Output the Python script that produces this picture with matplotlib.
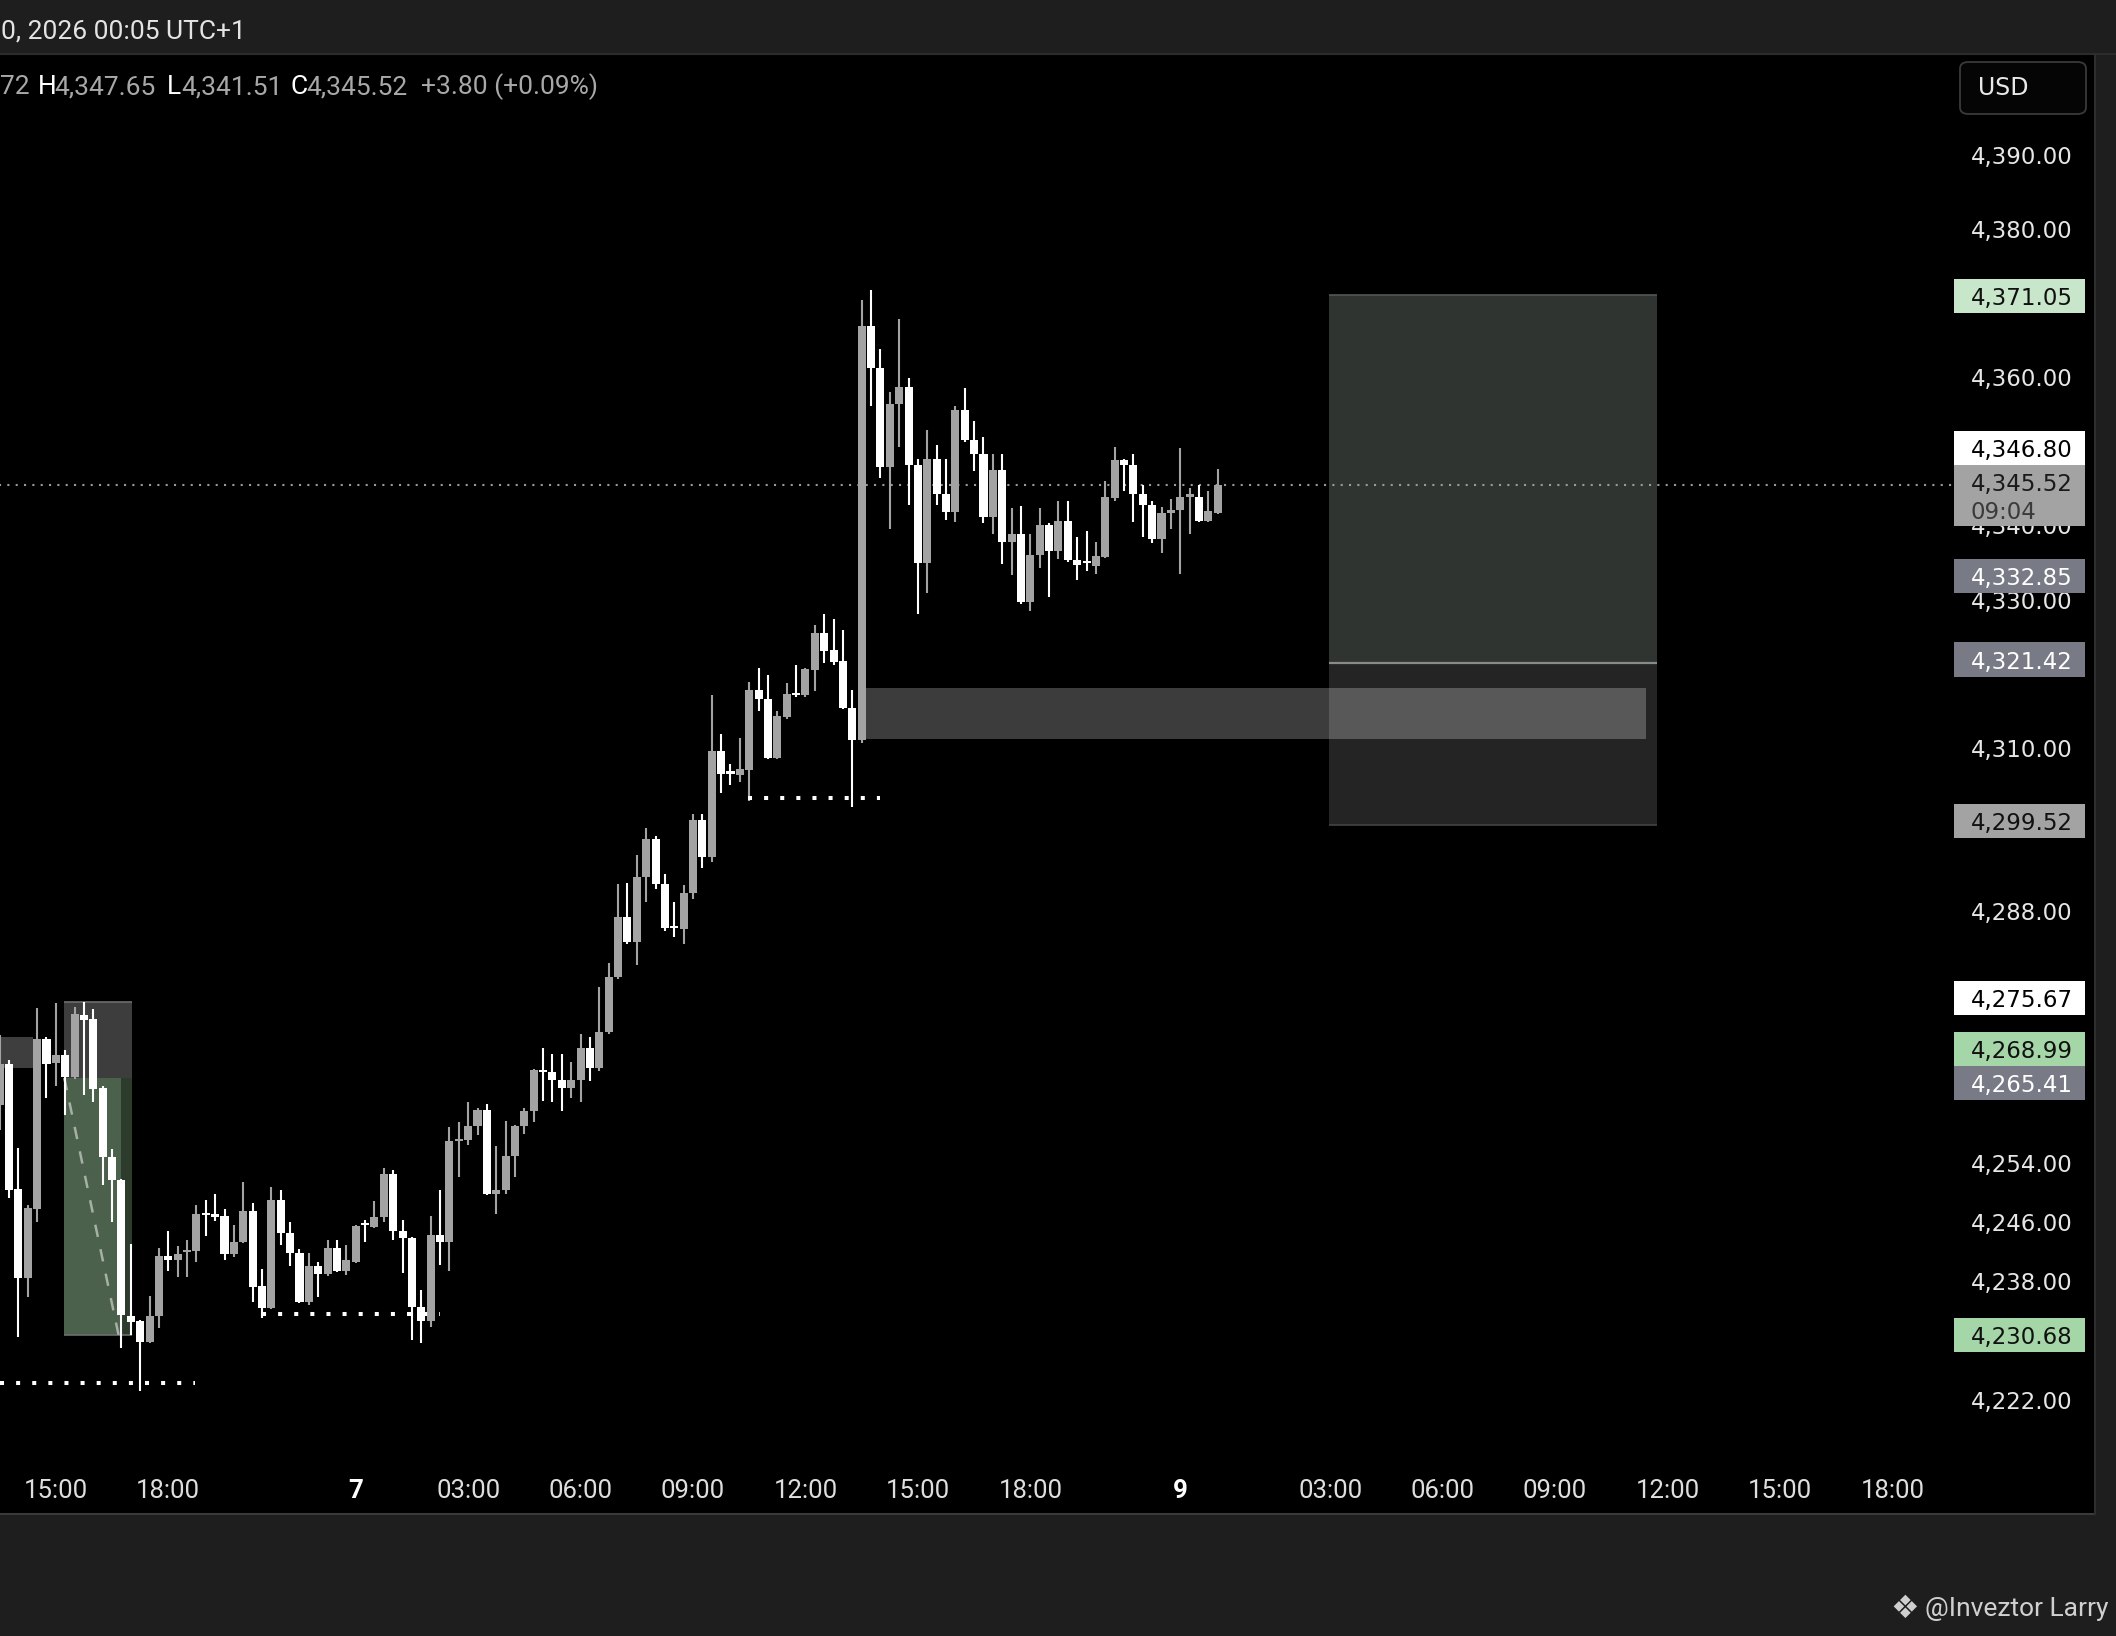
import numpy as np
import matplotlib
matplotlib.use("Agg")
import matplotlib.pyplot as plt
from matplotlib.patches import Rectangle, FancyBboxPatch
import matplotlib.transforms as mtransforms

W, H = 2116, 1636

# ---------------- data (15-min candles, index 0 = day "7" label) ----------------
first_bar = -38
opens = [4261.8, 4267.3, 4250.4, 4238.4, 4247.7, 4270.7, 4267.4, 4268.5, 4265.5, 4273.9,
         4273.4, 4264.1, 4254.8, 4251.6, 4233.3, 4232.6, 4229.8, 4233.3, 4241.4, 4240.9,
         4241.9, 4242.0, 4247.1, 4246.9, 4246.8, 4241.7, 4243.3, 4247.4, 4237.3, 4234.4,
         4248.9, 4244.5, 4241.8, 4235.2, 4240.0, 4238.9, 4242.4, 4239.3, 4240.6, 4245.6,
         4245.3, 4246.7, 4252.4, 4244.7, 4243.8, 4234.5, 4232.6, 4244.2, 4243.3, 4256.9,
         4257.0, 4258.9, 4261.1, 4249.8, 4250.3, 4254.9, 4258.9, 4260.9, 4266.5, 4266.2,
         4265.2, 4264.1, 4265.1, 4269.5, 4266.7, 4271.6, 4279.0, 4287.1, 4283.7, 4292.5,
         4297.6, 4291.6, 4285.8, 4285.5, 4290.4, 4300.2, 4295.3, 4309.5, 4306.7, 4306.3,
         4307.0, 4317.8, 4316.6, 4308.6, 4314.2, 4317.3, 4317.1, 4320.5, 4325.5, 4323.2,
         4321.7, 4315.3, 4311.0, 4366.9, 4361.3, 4347.9, 4356.4, 4358.7, 4348.2, 4334.9,
         4349.0, 4344.3, 4341.8, 4355.6, 4351.5, 4349.7, 4341.2, 4347.5, 4337.8, 4338.9,
         4329.6, 4336.0, 4340.1, 4336.5, 4340.6, 4335.3, 4335.0, 4334.5, 4335.8, 4343.7,
         4348.8, 4348.2, 4344.2, 4342.8, 4338.1, 4341.7, 4342.1, 4343.9, 4343.9, 4340.6,
         4341.72]
highs = [4271.2, 4267.8, 4255.9, 4248.3, 4274.8, 4271.0, 4275.5, 4269.2, 4275.0, 4275.6,
         4274.7, 4264.3, 4255.8, 4251.8, 4243.0, 4232.8, 4236.0, 4242.4, 4244.7, 4242.7,
         4243.5, 4248.3, 4249.0, 4249.7, 4247.7, 4245.6, 4251.4, 4248.5, 4239.6, 4250.7,
         4250.3, 4245.9, 4242.3, 4241.8, 4240.5, 4243.5, 4243.5, 4242.8, 4245.5, 4246.2,
         4248.8, 4253.2, 4253.0, 4246.2, 4244.0, 4236.8, 4246.8, 4250.3, 4258.8, 4259.5,
         4262.1, 4261.4, 4261.9, 4256.2, 4259.6, 4259.1, 4261.3, 4266.6, 4269.4, 4268.6,
         4268.7, 4267.5, 4271.3, 4270.9, 4277.7, 4280.9, 4291.6, 4291.7, 4295.5, 4299.1,
         4298.1, 4293.0, 4289.1, 4291.5, 4301.0, 4301.0, 4317.1, 4311.8, 4307.8, 4311.3,
         4318.9, 4320.8, 4319.8, 4314.9, 4318.7, 4321.2, 4320.8, 4326.6, 4328.0, 4327.3,
         4325.9, 4317.8, 4370.4, 4371.8, 4363.8, 4358.0, 4367.8, 4359.9, 4349.0, 4352.9,
         4350.9, 4349.0, 4356.1, 4358.6, 4354.1, 4351.9, 4349.7, 4349.6, 4342.3, 4342.6,
         4338.8, 4342.3, 4340.3, 4343.3, 4343.3, 4338.4, 4339.3, 4337.8, 4346.0, 4350.6,
         4349.0, 4349.6, 4345.5, 4343.3, 4342.5, 4343.5, 4350.4, 4345.1, 4345.5, 4344.6,
         4347.65]
lows = [4258.4, 4249.2, 4230.5, 4235.9, 4246.0, 4262.7, 4264.3, 4260.4, 4265.3, 4263.1,
        4262.2, 4251.0, 4246.0, 4229.0, 4230.7, 4223.1, 4229.6, 4231.6, 4239.4, 4238.5,
        4238.5, 4240.5, 4244.1, 4246.1, 4240.8, 4241.3, 4243.1, 4235.2, 4233.0, 4234.2,
        4242.9, 4240.0, 4235.0, 4234.8, 4235.9, 4238.7, 4239.2, 4238.8, 4240.4, 4243.2,
        4245.1, 4246.0, 4243.5, 4239.1, 4230.0, 4229.6, 4231.8, 4240.2, 4239.3, 4252.1,
        4256.4, 4257.7, 4249.6, 4247.1, 4249.8, 4252.1, 4257.9, 4259.4, 4262.3, 4262.2,
        4261.0, 4262.7, 4262.1, 4265.0, 4266.4, 4271.4, 4278.8, 4283.5, 4280.6, 4289.2,
        4290.9, 4285.2, 4284.4, 4283.5, 4289.6, 4293.8, 4294.6, 4303.9, 4305.0, 4305.3,
        4302.8, 4315.0, 4308.4, 4308.4, 4313.8, 4316.9, 4316.9, 4317.7, 4321.4, 4321.2,
        4315.2, 4302.0, 4310.6, 4356.1, 4346.4, 4339.5, 4350.6, 4342.8, 4328.1, 4330.9,
        4342.7, 4340.7, 4340.5, 4351.3, 4347.4, 4340.3, 4338.9, 4334.8, 4333.3, 4329.4,
        4328.4, 4334.2, 4330.3, 4335.4, 4335.1, 4332.6, 4333.8, 4333.5, 4335.6, 4343.3,
        4344.7, 4340.4, 4338.4, 4337.6, 4336.3, 4339.5, 4333.5, 4338.8, 4340.4, 4340.4,
        4341.51]
closes = [4267.3, 4250.3, 4238.4, 4247.8, 4270.7, 4267.3, 4268.5, 4265.5, 4274.0, 4273.2,
          4263.9, 4254.8, 4251.6, 4233.4, 4232.5, 4229.8, 4233.3, 4241.4, 4240.9, 4241.7,
          4242.1, 4247.1, 4246.9, 4246.7, 4241.7, 4243.3, 4247.4, 4237.2, 4234.4, 4248.9,
          4244.5, 4241.8, 4235.2, 4240.0, 4238.9, 4242.4, 4239.3, 4240.8, 4245.4, 4245.5,
          4246.7, 4252.4, 4244.7, 4243.8, 4234.5, 4232.6, 4244.2, 4243.3, 4256.9, 4257.0,
          4258.9, 4261.1, 4249.8, 4250.3, 4254.9, 4258.9, 4260.9, 4266.5, 4266.2, 4265.2,
          4264.1, 4265.1, 4269.5, 4266.7, 4271.6, 4279.0, 4287.1, 4283.7, 4292.5, 4297.6,
          4291.6, 4285.7, 4285.6, 4290.4, 4300.2, 4295.3, 4309.5, 4306.5, 4306.5, 4307.1,
          4317.8, 4316.5, 4308.6, 4314.3, 4317.2, 4317.1, 4320.6, 4325.5, 4323.1, 4321.6,
          4315.3, 4311.0, 4366.9, 4361.3, 4347.9, 4356.4, 4358.7, 4348.2, 4334.9, 4349.0,
          4344.3, 4341.8, 4355.6, 4351.5, 4349.7, 4341.2, 4347.5, 4337.8, 4338.9, 4329.6,
          4336.0, 4340.1, 4336.5, 4340.6, 4335.3, 4334.7, 4334.9, 4335.9, 4343.9, 4348.8,
          4348.2, 4344.2, 4342.8, 4338.1, 4341.7, 4342.1, 4343.9, 4344.1, 4340.6, 4342.0,
          4345.52]

price_ticks = [4390, 4380, 4360, 4340, 4330, 4310, 4288, 4254, 4246, 4238, 4222]
time_labels = ["15:00", "18:00", "7", "03:00", "06:00", "09:00", "12:00", "15:00", "18:00",
               "9", "03:00", "06:00", "09:00", "12:00", "15:00", "18:00"]
time_pos = [-32, -20, 0, 12, 24, 36, 48, 60, 72, 88, 104, 116, 128, 140, 152, 164]

# drawings (price levels / bar indices)
short_stop, short_entry, short_target = 4275.67, 4265.41, 4230.68
short_start, short_exit, short_end = -31.1, -25.0, -23.9
long_target, long_entry, long_stop = 4371.05, 4321.42, 4299.52
long_start, long_end = 103.9, 138.9
zone_lo, zone_hi, zone_start, zone_end = 4311.1, 4318.05, 53.9, 137.7
left_zone_lo, left_zone_hi, left_zone_end = 4266.8, 4270.9, -34.4
liq_levels = [4224.2, 4233.5, 4303.2]
liq_from = [-38.0, -10.0, 41.9]
liq_to = [-17.1, 9.0, 56.0]
last_price = 4345.52

# price-axis labels: (text, bottom, top, background, text colour)
axis_labels = [
    ("4,371.05", 4368.7, 4373.2, "#c8e6c9", "#111111"),
    ("4,346.80", 4348.2, 4352.8, "#ffffff", "#000000"),
    ("4,332.85", 4330.9, 4335.5, "#787b86", "#ffffff"),
    ("4,321.42", 4319.6, 4324.2, "#787b86", "#ffffff"),
    ("4,299.52", 4297.8, 4302.4, "#a3a3a3", "#111111"),
    ("4,275.67", 4273.9, 4278.5, "#ffffff", "#000000"),
    ("4,268.99", 4267.0, 4271.6, "#a5d6a7", "#111111"),
    ("4,265.41", 4262.4, 4267.0, "#787b86", "#ffffff"),
    ("4,230.68", 4228.4, 4233.0, "#a5d6a7", "#111111"),
]

# ---------------- figure ----------------
BG = "#1e1e1e"
fig = plt.figure(figsize=(W / 100, H / 100), dpi=100, facecolor=BG)

CH_TOP, CH_BOT, CH_RIGHT = 54, 1514, 2095
ax = fig.add_axes([0, 1 - CH_BOT / H, CH_RIGHT / W, (CH_BOT - CH_TOP) / H])
ax.set_facecolor("black")
for s in ax.spines.values():
    s.set_visible(False)
ax.set_xticks([])
ax.set_yticks([])
X0, DX = 355.7, 9.37          # pixel position of bar 0 and bar spacing
ax.set_xlim(-X0 / DX, (CH_RIGHT - X0) / DX)
PPU = 7.408                   # pixels per price unit
ax.set_ylim(4390 - (CH_BOT - 155) / PPU, 4390 + (155 - CH_TOP) / PPU)
plot_right = (1952 - X0) / DX
TXT_DY = -0.35                # small visual offset for text centring

idx = np.arange(first_bar, first_bar + len(opens))
o = np.array(opens); hi = np.array(highs); lo = np.array(lows); c = np.array(closes)
UP, DOWN = "#a3a3a3", "#ffffff"

# --- left dark zone
ax.add_patch(Rectangle((-40, left_zone_lo), left_zone_end + 40, left_zone_hi - left_zone_lo,
                       facecolor="#3e3e3e", edgecolor="none", zorder=1))
# --- short position tool
ax.add_patch(Rectangle((short_start, short_entry), short_end - short_start, short_stop - short_entry,
                       facecolor="#3d3d3d", edgecolor="none", zorder=1))
ax.add_patch(Rectangle((short_start, short_target), short_exit - short_start, short_entry - short_target,
                       facecolor="#4b614b", edgecolor="none", zorder=1))
ax.add_patch(Rectangle((short_exit, short_target), short_end - short_exit, short_entry - short_target,
                       facecolor="#2c3b2c", edgecolor="none", zorder=1))
ax.hlines([short_stop, short_target], short_start, short_end, colors="#6e6e6e", lw=1.2, zorder=1.5)
ax.plot([short_start, short_exit - 0.3], [short_entry, short_target], color="#a6b0a6",
        lw=1.8, ls=(0, (5, 5)), zorder=1.6)

# --- long position tool
ax.add_patch(Rectangle((long_start, long_entry), long_end - long_start, long_target - long_entry,
                       facecolor="#303430", edgecolor="none", zorder=1))
ax.add_patch(Rectangle((long_start, long_stop), long_end - long_start, long_entry - long_stop,
                       facecolor="#242424", edgecolor="none", zorder=1))
ax.hlines([long_target], long_start, long_end, colors="#555555", lw=1.2, zorder=1.5)
ax.hlines([long_stop], long_start, long_end, colors="#444444", lw=1.2, zorder=1.5)
ax.hlines([long_entry], long_start, long_end, colors="#8a8a8a", lw=1.6, zorder=1.5)

# --- grey imbalance band
ax.add_patch(Rectangle((zone_start, zone_lo), zone_end - zone_start, zone_hi - zone_lo,
                       facecolor="white", alpha=0.24, edgecolor="none", zorder=2))

# --- current price dotted line
ax.hlines(last_price, -40, plot_right, colors="#9a9a9a", lw=1.5, linestyles=[(0, (1, 3))], zorder=2.5)

# --- liquidity dotted lines
for lv, a, b in zip(liq_levels, liq_from, liq_to):
    ax.plot([a, b], [lv, lv], color="white", lw=2.9, ls=(0, (1, 3)), solid_capstyle="butt",
            dash_capstyle="butt", zorder=4)

# --- candles
cols = np.where(c >= o, UP, DOWN)
ax.vlines(idx, lo, hi, colors=cols, lw=1.5, zorder=3)
body_lo = np.minimum(o, c)
body_h = np.maximum(np.abs(c - o), 0.3)
ax.bar(idx, body_h, bottom=body_lo, width=0.86, color=cols, edgecolor="none", zorder=3.1)

# --- price axis
bt = mtransforms.blended_transform_factory(ax.transAxes, ax.transData)
tx_right = 2073 / CH_RIGHT
for p in price_ticks:
    ax.text(tx_right, p + TXT_DY, f"{p:,.2f}", transform=bt, ha="right", va="center",
            fontsize=16.5, color="#e6e6e6", family="DejaVu Sans", zorder=5)

bx0, bw = 1954 / CH_RIGHT, (2085 - 1954) / CH_RIGHT
for txt, b, t, bg, fg in axis_labels:
    ax.add_patch(Rectangle((bx0, b), bw, t - b, transform=bt, facecolor=bg,
                           edgecolor="none", zorder=6, clip_on=False))
    ax.text(tx_right, (b + t) / 2 + TXT_DY, txt, transform=bt, ha="right", va="center",
            fontsize=16.5, color=fg, family="DejaVu Sans", zorder=7)
# last price label (two lines)
ax.add_patch(Rectangle((bx0, 4339.9), bw, 8.2, transform=bt, facecolor="#a3a3a3",
                       edgecolor="none", zorder=6))
ax.text(tx_right, 4345.9 + TXT_DY, f"{last_price:,.2f}", transform=bt, ha="right", va="center",
        fontsize=16.5, color="#1a1a1a", family="DejaVu Sans", zorder=7)
ax.text(1970 / CH_RIGHT, 4342.1 + TXT_DY, "09:04", transform=bt, ha="left", va="center",
        fontsize=16.5, color="#3a3a3a", family="DejaVu Sans", zorder=7)

# --- time axis labels
tt = mtransforms.blended_transform_factory(ax.transData, ax.transAxes)
for lab, pos in zip(time_labels, time_pos):
    bold = lab in ("7", "9")
    ax.text(pos, (CH_BOT - 1491) / (CH_BOT - CH_TOP), lab, transform=tt, ha="center", va="center",
            fontsize=18.5, color="white" if bold else "#dedede", family="Roboto",
            fontweight="bold" if bold else "normal", zorder=7)

# --- frame lines
fig.add_artist(plt.Line2D([0, CH_RIGHT / W], [1 - CH_BOT / H] * 2, color="#3a3a3a", lw=1.5))
fig.add_artist(plt.Line2D([CH_RIGHT / W] * 2, [1 - CH_BOT / H, 1 - CH_TOP / H], color="#2e2e2e", lw=1.5))
fig.add_artist(plt.Line2D([0, 1], [1 - CH_TOP / H] * 2, color="#2c2c2c", lw=1.5))

# --- USD box
fig.add_artist(FancyBboxPatch((1960 / W, 1 - 114 / H), 126 / W, 52 / H,
                              boxstyle="round,pad=0,rounding_size=0.004",
                              facecolor="#050505", edgecolor="#3a3a3a", lw=1.3,
                              transform=fig.transFigure))
fig.text(1978 / W, 1 - 88 / H, "USD", fontsize=17, color="#e8e8e8", family="DejaVu Sans",
         ha="left", va="center")

# --- header texts
fig.text(1 / W, 1 - 32 / H, "0, 2026 00:05 UTC+1", fontsize=19, color="#e4e4e4",
         family="Roboto", ha="left", va="center")
ohlc_parts = [("72", 0, "#a8a8a8"), ("H", 38, "#ffffff"), ("4,347.65", 54, "#a8a8a8"),
              ("L", 167, "#ffffff"), ("4,341.51", 181, "#a8a8a8"), ("C", 290, "#ffffff"),
              ("4,345.52", 306, "#a8a8a8"), ("+3.80 (+0.09%)", 421, "#a8a8a8")]
for txt, xp, col in ohlc_parts:
    fig.text(xp / W, 1 - 87 / H, txt, fontsize=19, color=col, family="Roboto",
             ha="left", va="center")

# --- watermark
fig.text(1905 / W, 1 - 1609 / H, "\u2756", fontsize=23, color="#cfcfcf", family="DejaVu Sans",
         ha="center", va="center")
fig.text(1925 / W, 1 - 1609 / H, "@Inveztor Larry", fontsize=19, color="#d0d0d0",
         family="Roboto", ha="left", va="center")

fig.savefig("out.png", dpi=100, facecolor=BG)
